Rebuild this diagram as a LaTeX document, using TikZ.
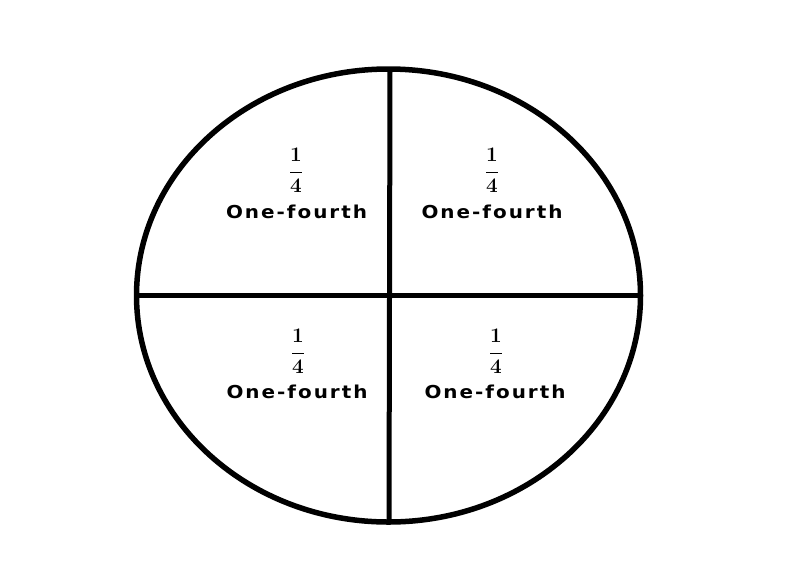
\documentclass[tikz,border=0pt]{standalone}
\usepackage{fontspec}
\usepackage{graphicx}
\usetikzlibrary{shapes.geometric}
\newfontfamily\labelfont[LetterSpace=10]{DejaVu Sans}
\tikzset{
  plate/.style={ellipse, draw=black, line width=5.5pt, minimum width=504pt, minimum height=453pt, inner sep=0pt, outer sep=0pt},
  divider/.style={draw=black, line width=5pt},
  fracbox/.style={inner sep=0pt, font=\fontsize{21.5}{24}\selectfont\boldmath},
  wordbox/.style={inner sep=0pt, anchor=base, font=\labelfont\bfseries\fontsize{17.8}{21}\selectfont}
}
\newcommand{\widelabel}[1]{\scalebox{1.12}[1]{#1}}
\begin{document}
\begin{tikzpicture}[x=1pt,y=-1pt]
  \useasboundingbox[fill=white] (0,0) rectangle (794,579);
  \node[plate] (plate) at (388.5,295.5) {};
  \coordinate (top) at (390,69);
  \coordinate (bottom) at (389,522);
  \draw[divider] (top) -- (bottom);
  \draw[divider] (plate.west) -- (plate.east);
  \node[fracbox] (f1) at (296,170.5) {$\displaystyle\frac{\mathbf{1}}{\mathbf{4}}$};
  \node[wordbox] (w1) at (296.5,218) {\widelabel{One-fourth}};
  \node[fracbox] (f2) at (492,170.5) {$\displaystyle\frac{\mathbf{1}}{\mathbf{4}}$};
  \node[wordbox] (w2) at (492,218) {\widelabel{One-fourth}};
  \node[fracbox] (f3) at (298,351.5) {$\displaystyle\frac{\mathbf{1}}{\mathbf{4}}$};
  \node[wordbox] (w3) at (297,398) {\widelabel{One-fourth}};
  \node[fracbox] (f4) at (496,351.5) {$\displaystyle\frac{\mathbf{1}}{\mathbf{4}}$};
  \node[wordbox] (w4) at (495,398) {\widelabel{One-fourth}};
\end{tikzpicture}
\end{document}
